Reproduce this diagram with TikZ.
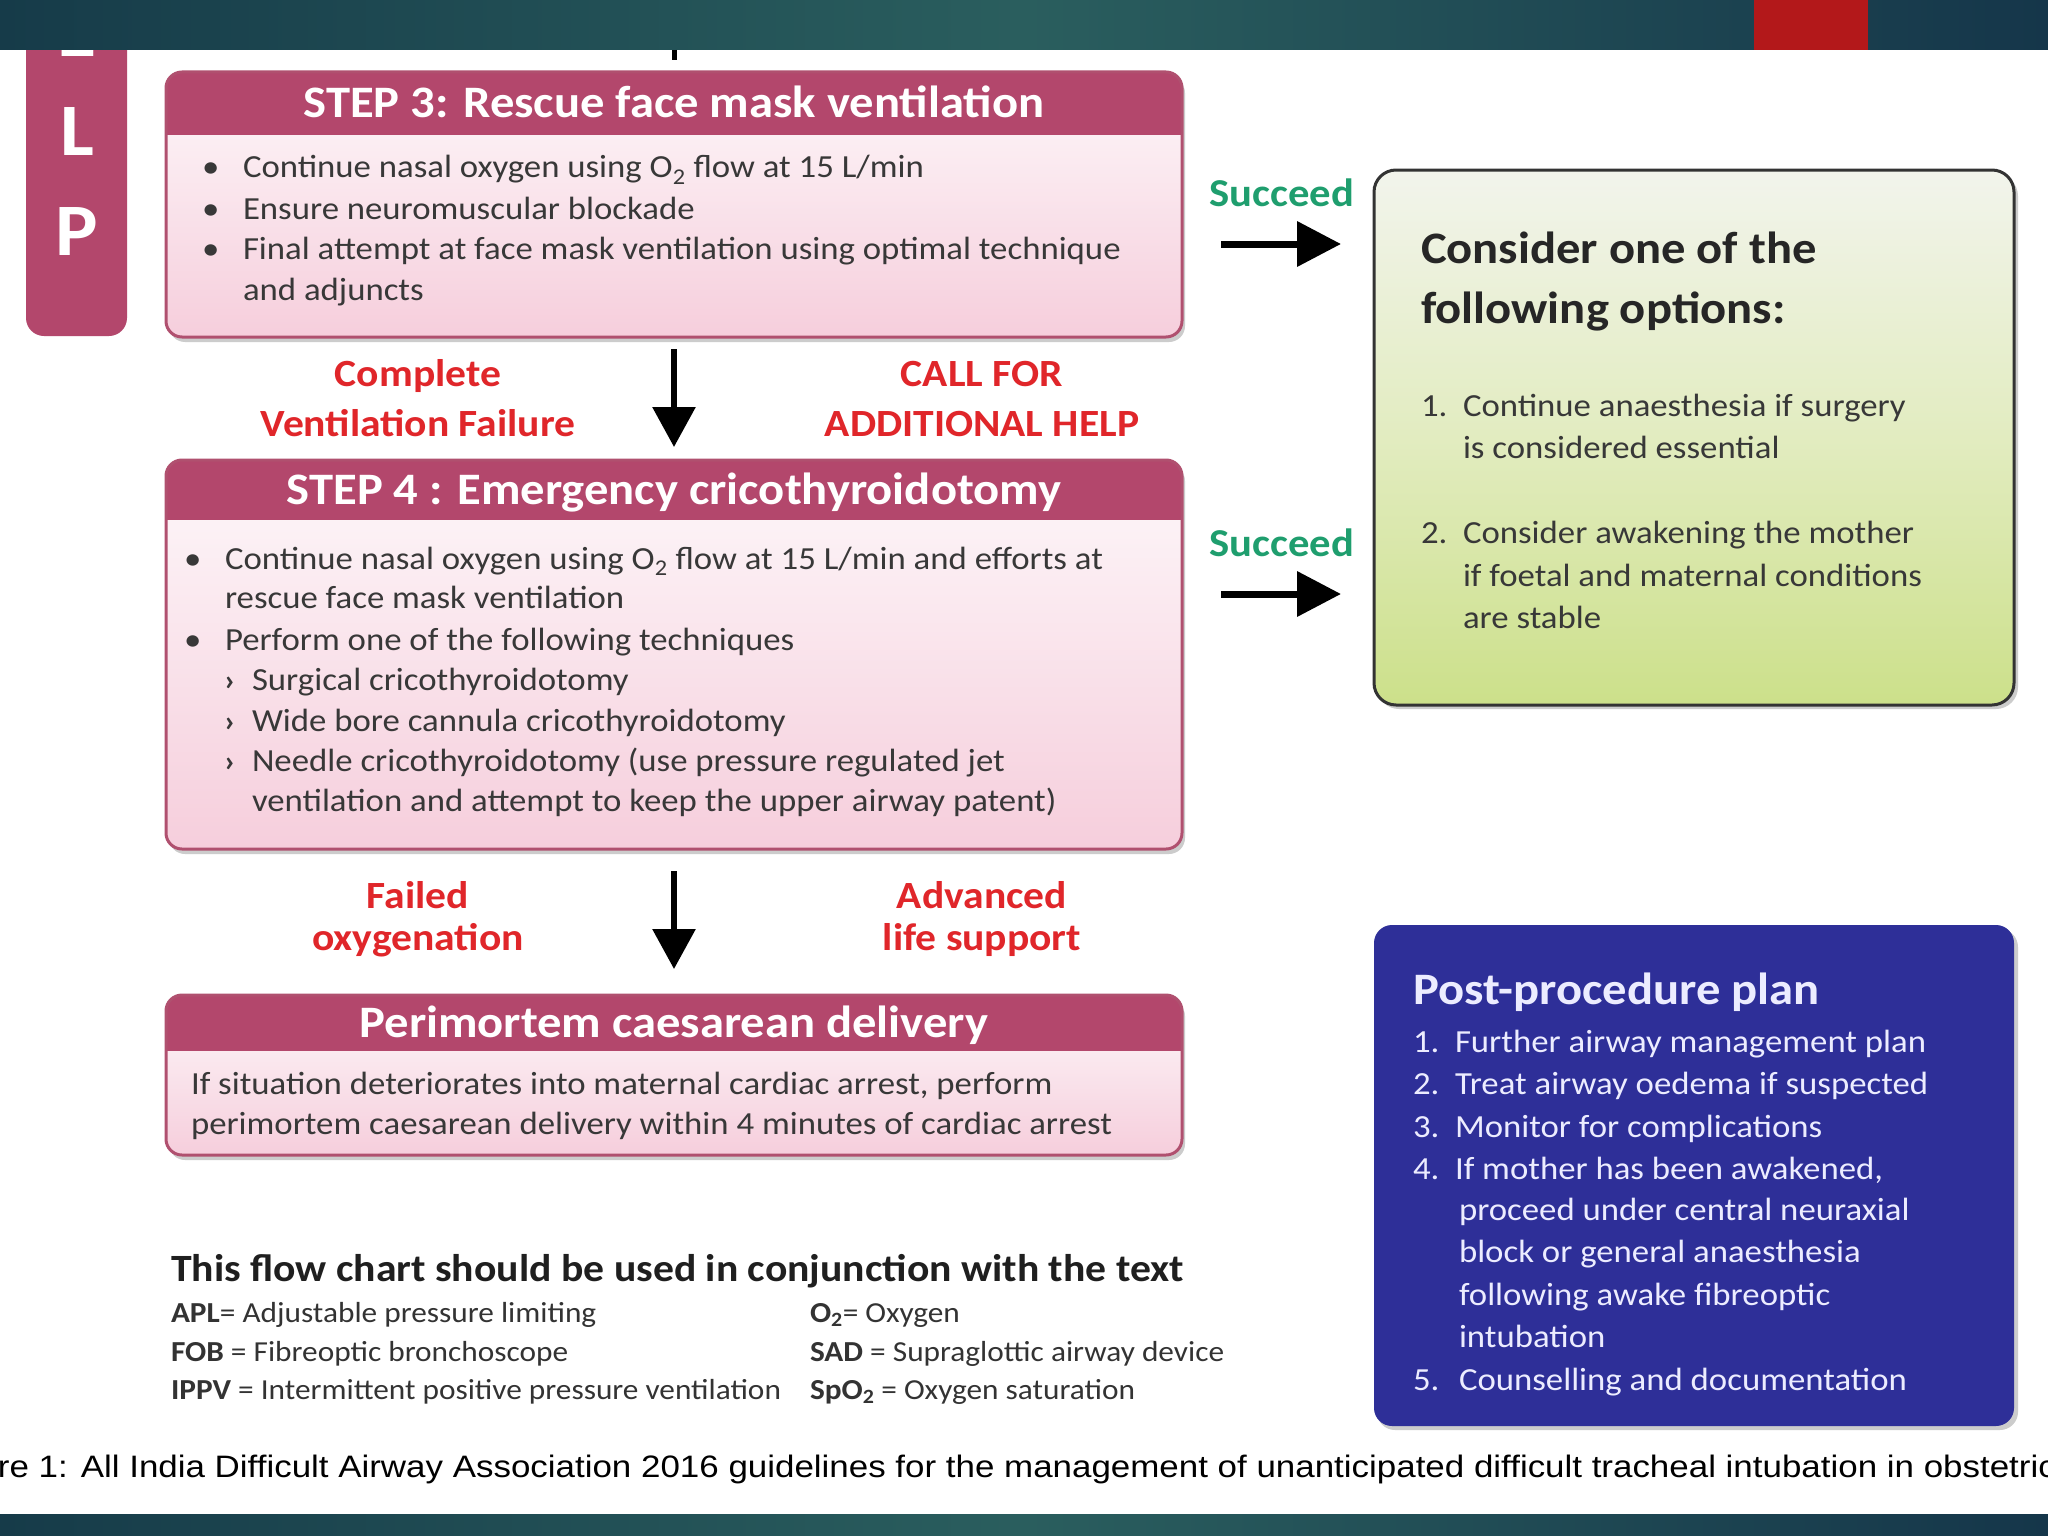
\documentclass[tikz,border=0pt]{standalone}
\usepackage{fontspec}
\setmainfont[FakeStretch=1.08]{Carlito}
\newfontfamily\capfont{Liberation Sans}
\usetikzlibrary{arrows.meta,fit}
\definecolor{hdr}{HTML}{B3476C}
\definecolor{hdrdark}{HTML}{B0506F}
\definecolor{pinktop}{HTML}{FDF8FA}
\definecolor{pinkbot}{HTML}{F6CEDC}
\definecolor{bodytxt}{HTML}{383838}
\definecolor{redlab}{HTML}{E0262A}
\definecolor{greenlab}{HTML}{1F9E6E}
\definecolor{gtop}{HTML}{F2F4EC}
\definecolor{gmid}{HTML}{E2ECC0}
\definecolor{gbot}{HTML}{CCE08A}
\definecolor{bluebox}{HTML}{2E2F98}
\definecolor{bluetxt}{HTML}{ECECFF}
\definecolor{barL}{HTML}{163B49}
\definecolor{barM}{HTML}{2A5E5E}
\definecolor{barR}{HTML}{15364A}
\definecolor{redblk}{HTML}{B3181A}
\newcommand\pinkbox[6]{%
  \fill[black!20, rounded corners=16pt] (#2+3,#3+5) rectangle (#4+3,#5+5);
  \shade[top color=pinktop, bottom color=pinkbot, rounded corners=16pt] (#2,#3) rectangle (#4,#5);
  \begin{scope}
    \clip[rounded corners=16pt] (#2,#3) rectangle (#4,#5);
    \fill[hdr] (#2,#3) rectangle (#4,#6);
  \end{scope}
  \draw[hdrdark, line width=3pt, rounded corners=16pt] (#2,#3) rectangle (#4,#5);
  \node[fit={(#2,#3) (#4,#5)}, inner sep=0pt, outer sep=0pt] (#1) {};
}
\begin{document}
\begin{tikzpicture}[x=1pt,y=-1pt,
  ln/.style={anchor=base west, inner sep=0pt, outer sep=0pt},
  lnc/.style={anchor=base, inner sep=0pt, outer sep=0pt},
  body/.style={ln, font=\fontsize{32.2}{32}\selectfont, text=bodytxt},
  subarr/.style={ln, font=\fontsize{30}{30}\selectfont\bfseries, text=bodytxt},
  hdtxt/.style={lnc, font=\fontsize{45}{45}\selectfont\bfseries, text=white},
  redtxt/.style={lnc, font=\fontsize{38.5}{38}\selectfont\bfseries, text=redlab},
  suctxt/.style={lnc, font=\fontsize{39.5}{39}\selectfont\bfseries, text=greenlab},
  gtitle/.style={ln, font=\fontsize{45}{45}\selectfont\bfseries, text=black!85},
  gitem/.style={ln, font=\fontsize{32.2}{32}\selectfont, text=bodytxt},
  btitle/.style={ln, font=\fontsize{45}{45}\selectfont\bfseries, text=bluetxt},
  bitem/.style={ln, font=\fontsize{32.2}{32}\selectfont, text=bluetxt},
  abbr/.style={ln, font=\fontsize{29}{29}\selectfont, text=black!80},
  varrow/.style={line width=6pt, -{Triangle[length=40pt,width=42pt]}},
  harrow/.style={line width=7pt, -{Triangle[length=44pt,width=44pt]}}
]
\useasboundingbox (0,0) rectangle (2048,1536);
\clip (0,0) rectangle (2048,1536);
\fill[white] (0,0) rectangle (2048,1536);

% left vertical bar
\fill[hdr, rounded corners=18pt] (26,-40) rectangle (127,336);
\node[lnc, font=\fontsize{74}{74}\selectfont\bfseries, text=white] (letE) at (77,57) {E};
\node[lnc, font=\fontsize{74}{74}\selectfont\bfseries, text=white] (letL) at (77,156) {L};
\node[lnc, font=\fontsize{74}{74}\selectfont\bfseries, text=white] (letP) at (77,255) {P};

% top bar
\shade[left color=barL, right color=barR, middle color=barM] (0,0) rectangle (2048,50);
\fill[redblk] (1754,0) rectangle (1868,50);
% bottom bar
\shade[left color=barL, right color=barR, middle color=barM] (0,1514) rectangle (2048,1536);

% boxes
\pinkbox{s3}{166}{72}{1182}{337}{135}
\pinkbox{s4}{166}{460}{1182}{849}{520}
\pinkbox{pm}{166}{995}{1182}{1155}{1051}

% stub arrow from above
\coordinate (stub) at (674,50);
\draw[line width=5pt] (stub) -- ([yshift=12pt]s3.north);

% STEP 3
\node[hdtxt] (s3h) at (674,118) {STEP 3: Rescue face mask ventilation};
\node[body] (s3b1) at (202,178) {\textbullet};
\node[body] (s3t1) at (243,178) {Continue nasal oxygen using O\textsubscript{2} flow at 15 L/min};
\node[body] (s3b2) at (202,219) {\textbullet};
\node[body] (s3t2) at (243,219) {Ensure neuromuscular blockade};
\node[body] (s3b3) at (202,259) {\textbullet};
\node[body] (s3t3) at (243,259) {Final attempt at face mask ventilation using optimal technique};
\node[body] (s3t4) at (243,300) {and adjuncts};

% labels between 3 and 4
\node[redtxt] (lab1a) at (418,386) {Complete};
\node[redtxt] (lab1b) at (418,436) {Ventilation Failure};
\node[redtxt] (lab2a) at (982,386) {CALL FOR};
\node[redtxt] (lab2b) at (982,436) {ADDITIONAL HELP};

% STEP 4
\node[hdtxt] (s4h) at (674,504) {STEP 4 : Emergency cricothyroidotomy};
\node[body] (s4b1) at (184,569) {\textbullet};
\node[body] (s4t1) at (225,569) {Continue nasal oxygen using O\textsubscript{2} flow at 15 L/min and efforts at};
\node[body] (s4t2) at (225,608) {rescue face mask ventilation};
\node[body] (s4b3) at (184,650) {\textbullet};
\node[body] (s4t3) at (225,650) {Perform one of the following techniques};
\node[subarr] (s4a4) at (224,690) {›};
\node[body] (s4t4) at (252,690) {Surgical cricothyroidotomy};
\node[subarr] (s4a5) at (224,731) {›};
\node[body] (s4t5) at (252,731) {Wide bore cannula cricothyroidotomy};
\node[subarr] (s4a6) at (224,771) {›};
\node[body] (s4t6) at (252,771) {Needle cricothyroidotomy (use pressure regulated jet};
\node[body] (s4t7) at (252,811) {ventilation and attempt to keep the upper airway patent)};

% labels between 4 and PM
\node[redtxt] (lab3a) at (418,908) {Failed};
\node[redtxt] (lab3b) at (418,950) {oxygenation};
\node[redtxt] (lab4a) at (982,908) {Advanced};
\node[redtxt] (lab4b) at (982,950) {life support};

% Perimortem
\node[hdtxt] (pmh) at (674,1037) {Perimortem caesarean delivery};
\node[body] (pmt1) at (191,1094) {If situation deteriorates into maternal cardiac arrest, perform};
\node[body] (pmt2) at (191,1134) {perimortem caesarean delivery within 4 minutes of cardiac arrest};

% green box
\fill[black!20, rounded corners=22pt] (1377,174) rectangle (2018,709);
\shade[top color=gtop, bottom color=gbot, middle color=gmid, rounded corners=22pt] (1374,170) rectangle (2014,705);
\draw[black!80, line width=3pt, rounded corners=22pt] (1374,170) rectangle (2014,705);
\node[fit={(1374,170) (2014,705)}, inner sep=0pt, outer sep=0pt] (opt) {};
\node[gtitle] (gt1) at (1421,263) {Consider one of the};
\node[gtitle] (gt2) at (1421,323) {following options:};
\node[gitem] (gn1) at (1421,416) {1.};
\node[gitem] (gi1) at (1463,416) {Continue anaesthesia if surgery};
\node[gitem] (gi2) at (1463,458) {is considered essential};
\node[gitem] (gn2) at (1421,543) {2.};
\node[gitem] (gi3) at (1463,543) {Consider awakening the mother};
\node[gitem] (gi4) at (1463,586) {if foetal and maternal conditions};
\node[gitem] (gi5) at (1463,628) {are stable};

% succeed labels and arrows
\node[suctxt] (suc1) at (1282,206) {Succeed};
\node[suctxt] (suc2) at (1282,556) {Succeed};
\coordinate (a1) at ([yshift=-39.5pt]s3.east);
\coordinate (a2) at ([yshift=60.5pt]s4.east);
\draw[harrow, shorten <=39pt, shorten >=33pt] (a1) -- (a1 -| opt.west);
\draw[harrow, shorten <=39pt, shorten >=33pt] (a2) -- (a2 -| opt.west);

% vertical arrows
\draw[varrow, shorten <=12pt, shorten >=13pt] (s3.south) -- (s4.north);
\draw[varrow, shorten <=22pt, shorten >=26pt] (s4.south) -- (pm.north);

% blue box
\fill[black!20, rounded corners=18pt] (1377,929) rectangle (2018,1430);
\fill[bluebox, rounded corners=18pt] (1374,925) rectangle (2014,1426);
\node[fit={(1374,925) (2014,1426)}, inner sep=0pt, outer sep=0pt] (post) {};
\node[btitle] (bt) at (1413,1004) {Post-procedure plan};
\node[bitem] (bn1) at (1413,1052) {1.};
\node[bitem] (bi1) at (1455,1052) {Further airway management plan};
\node[bitem] (bn2) at (1413,1094) {2.};
\node[bitem] (bi2) at (1455,1094) {Treat airway oedema if suspected};
\node[bitem] (bn3) at (1413,1137) {3.};
\node[bitem] (bi3) at (1455,1137) {Monitor for complications};
\node[bitem] (bn4) at (1413,1179) {4.};
\node[bitem] (bi4) at (1455,1179) {If mother has been awakened,};
\node[bitem] (bi5) at (1459,1220) {proceed under central neuraxial};
\node[bitem] (bi6) at (1459,1262) {block or general anaesthesia};
\node[bitem] (bi7) at (1459,1305) {following awake fibreoptic};
\node[bitem] (bi8) at (1459,1347) {intubation};
\node[bitem] (bn5) at (1413,1390) {5.};
\node[bitem] (bi9) at (1459,1390) {Counselling and documentation};

% bottom notes
\node[ln, font=\fontsize{38.6}{38}\selectfont\bfseries, text=black!88] (note) at (171,1281) {This flow chart should be used in conjunction with the text};
\node[abbr] (ab1) at (171,1322) {\textbf{APL}= Adjustable pressure limiting};
\node[abbr] (ab2) at (171,1361) {\textbf{FOB} = Fibreoptic bronchoscope};
\node[abbr] (ab3) at (171,1399) {\textbf{IPPV} = Intermittent positive pressure ventilation};
\node[abbr] (ab4) at (810,1322) {\textbf{O\textsubscript{2}}= Oxygen};
\node[abbr] (ab5) at (810,1361) {\textbf{SAD} = Supraglottic airway device};
\node[abbr] (ab6) at (810,1399) {\textbf{SpO\textsubscript{2}} = Oxygen saturation};

% caption
\node[ln] (cap) at (-2,1477) {\resizebox{2058pt}{\height}{\capfont\fontsize{31}{31}\selectfont re 1: All India Difficult Airway Association 2016 guidelines for the management of unanticipated difficult tracheal intubation in obstetric}};
\end{tikzpicture}
\end{document}
